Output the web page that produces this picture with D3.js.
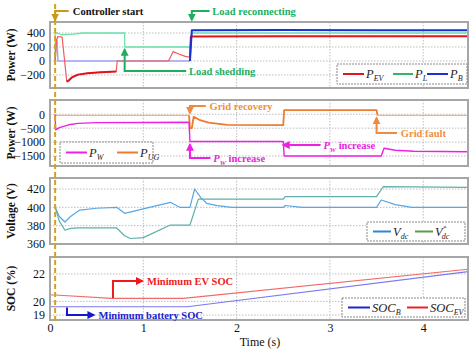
<!DOCTYPE html>
<html>
<head>
<meta charset="utf-8">
<script src="https://cdn.jsdelivr.net/npm/d3@7"></script>
<style>
  body { margin: 0; background: #fff; }
</style>
</head>
<body>
<svg id="chart" width="474" height="354"></svg>
<script>
// ---- data: [time (s), value] ----
const tStart = 0.055;

// panel 1, power (W)
const pEV = [[0.055,0],[0.07,300],[0.085,350],[0.13,340],[0.18,-296],[0.2,-280],[0.24,-230],[0.3,-195],[0.4,-175],[0.55,-160],[0.71,-150],[0.72,0],[1.27,0],[1.32,133],[1.38,100],[1.45,65],[1.5,53],[1.51,350],[2.5,355],[3.5,352],[4.48,355]];
const pL = [[0.055,0],[0.056,400],[0.08,400],[0.12,375],[0.25,385],[0.35,400],[0.8,400],[0.801,200],[1.5,200],[1.52,400],[4.48,400]];
const pB = [[0.055,0],[0.065,300],[0.075,300],[0.085,0],[1.5,0],[1.52,440],[2.5,442],[3.5,438],[4.48,440]];

// panel 2, power (W)
const pW = [[0.055,0],[0.06,-560],[0.1,-480],[0.2,-380],[0.3,-330],[0.5,-300],[1.49,-290],[1.5,-980],[2.5,-980],[2.51,-1500],[3.55,-1500],[3.58,-1222],[3.7,-1290],[3.9,-1330],[4.48,-1345]];
const pUG = [[0.055,-40],[1.49,-40],[1.5,-500],[1.52,-500],[1.54,-90],[1.6,-200],[1.7,-300],[1.9,-385],[2.5,-390],[2.51,150],[3.5,150],[3.51,-40],[4.48,-40]];

// panel 3, voltage (V)
const vDC = [[0.055,400],[0.1,390],[0.16,384],[0.22,390],[0.32,397],[0.5,399],[0.715,400],[0.8,393.5],[1.29,405.5],[1.39,400],[1.5,400],[1.55,420],[1.62,410],[1.68,404.4],[1.79,401.8],[1.95,400],[2.5,400],[2.52,402],[2.7,400],[3.5,400],[3.55,408],[3.7,403],[3.88,400],[4.48,400]];
const vRef = [[0.055,400],[0.1,385],[0.16,375],[0.22,377],[0.3,377.5],[0.715,377.5],[0.8,369],[0.86,366],[1.0,367],[1.29,380.7],[1.5,380.7],[1.59,409],[2.5,409],[2.52,411.6],[3.5,411.6],[3.57,422.5],[4.48,421.8]];

// panel 4, SOC (%)
const socB = [[0,19.61],[1.47,19.61],[4.48,22.17]];
const socEV = [[0,20.47],[0.055,20.47],[0.66,20.22],[1.43,20.22],[4.48,22.34]];

// ticks
const xTicks = [0, 1, 2, 3, 4];
const yTicks1 = [400, 200, 0, -200];
const yTicks2 = [0, -500, -1000, -1500];
const yTicks3 = [420, 400, 380, 360];
const yTicks4 = [22, 20, 19];

const FONT = "'Liberation Serif', 'DejaVu Serif', serif";
const svg = d3.select('#chart').attr('font-family', FONT);
const x = d3.scaleLinear().domain([0, 4.48]).range([50, 468]);

const panels = [
  { top: 22,  bottom: 88,  domain: [-386, 557],    ticks: yTicks1, title: 'Power (W)' },
  { top: 100, bottom: 166, domain: [-1857, 510],   ticks: yTicks2, title: 'Power (W)' },
  { top: 178, bottom: 244, domain: [360, 432],     ticks: yTicks3, title: 'Voltage (V)' },
  { top: 257, bottom: 320, domain: [18.64, 23.24], ticks: yTicks4, title: 'SOC (%)' },
];
panels.forEach(p => {
  p.y = d3.scaleLinear().domain(p.domain).range([p.bottom, p.top]);
});

const defs = svg.append('defs');
function marker(id, color) {
  defs.append('marker')
    .attr('id', id)
    .attr('viewBox', '0 0 10 10')
    .attr('refX', 8).attr('refY', 5)
    .attr('markerWidth', 8).attr('markerHeight', 8)
    .attr('markerUnits', 'userSpaceOnUse')
    .attr('orient', 'auto')
    .append('path').attr('d', 'M0,0 L10,5 L0,10 z').attr('fill', color);
}

// frames, grid, axes
panels.forEach(p => {
  const g = svg.append('g');
  g.append('rect')
    .attr('x', x.range()[0]).attr('y', p.top)
    .attr('width', x.range()[1] - x.range()[0]).attr('height', p.bottom - p.top)
    .attr('fill', '#fff');
  g.selectAll('.vg').data(xTicks.slice(1)).join('line')
    .attr('x1', d => x(d)).attr('x2', d => x(d))
    .attr('y1', p.top).attr('y2', p.bottom)
    .attr('stroke', '#bdbdbd').attr('stroke-width', 1).attr('stroke-dasharray', '1.5,1.5');
  g.selectAll('.hg').data(p.ticks).join('line')
    .attr('x1', x.range()[0]).attr('x2', x.range()[1])
    .attr('y1', d => p.y(d)).attr('y2', d => p.y(d))
    .attr('stroke', '#bdbdbd').attr('stroke-width', 1).attr('stroke-dasharray', '1.5,1.5');

  const ax = svg.append('g')
    .attr('transform', `translate(${x.range()[0]},0)`)
    .call(d3.axisLeft(p.y).tickValues(p.ticks).tickSize(0).tickPadding(5).tickFormat(d3.format('d')));
  ax.select('.domain').remove();
  ax.selectAll('text').attr('font-size', 12).attr('fill', '#111');

  svg.append('text')
    .attr('transform', `translate(12,${(p.top + p.bottom) / 2}) rotate(-90)`)
    .attr('text-anchor', 'middle').attr('dominant-baseline', 'middle')
    .attr('font-size', 11.5).attr('font-weight', 'bold').attr('fill', '#111')
    .text(p.title);
});

const xa = svg.append('g')
  .attr('transform', `translate(0,${panels[3].bottom})`)
  .call(d3.axisBottom(x).tickValues(xTicks).tickSize(0).tickPadding(3).tickFormat(d3.format('d')));
xa.select('.domain').remove();
xa.selectAll('text').attr('font-size', 12).attr('fill', '#111');
svg.append('text').attr('x', 260).attr('y', 346).attr('text-anchor', 'middle')
  .attr('font-size', 12).attr('fill', '#111').text('Time (s)');

// series
function drawLine(p, data, color, width) {
  const line = d3.line().x(d => x(d[0])).y(d => p.y(d[1]));
  svg.append('path').datum(data)
    .attr('d', line).attr('fill', 'none')
    .attr('stroke', color).attr('stroke-width', width)
    .attr('stroke-linejoin', 'round');
}
drawLine(panels[0], pL, '#6be2ac', 1.3);
drawLine(panels[0], pB.filter(d => d[0] <= 1.5), '#a3a3f5', 1.5);
drawLine(panels[0], pEV.filter(d => d[0] <= 1.5), '#f05a5a', 1.2);
drawLine(panels[0], pEV.filter(d => d[0] >= 1.5), '#e5141c', 2);
drawLine(panels[0], pB.filter(d => d[0] >= 1.5), '#1c2fd6', 2);
drawLine(panels[0], pEV.filter(d => d[0] > 0.17 && d[0] < 0.72), '#e0121a', 2);

drawLine(panels[1], pUG.filter(d => d[0] <= 1.49), '#f5a070', 1);
drawLine(panels[1], pUG.filter(d => d[0] >= 1.49 && d[0] <= 3.51), '#f07a30', 1.8);
drawLine(panels[1], pUG.filter(d => d[0] >= 3.51), '#f5a070', 1);
drawLine(panels[1], pW, '#f01ee6', 1.4);

drawLine(panels[2], vDC, '#5aa6e2', 1.2);
drawLine(panels[2], vRef, '#5fb0a8', 1.2);

drawLine(panels[3], socEV, '#f06a6a', 1.1);
drawLine(panels[3], socB, '#7a7af0', 1.1);

// panel frames on top
panels.forEach(p => {
  svg.append('rect')
    .attr('x', x.range()[0]).attr('y', p.top)
    .attr('width', x.range()[1] - x.range()[0]).attr('height', p.bottom - p.top)
    .attr('fill', 'none').attr('stroke', '#a6a6a6').attr('stroke-width', 2);
});

// controller start dashed line
svg.append('line')
  .attr('x1', x(tStart)).attr('x2', x(tStart))
  .attr('y1', 4).attr('y2', 323)
  .attr('stroke', '#d3a21e').attr('stroke-width', 2).attr('stroke-dasharray', '5,3');

// legends
function legend(x0, y0, w, h, items) {
  const g = svg.append('g');
  g.append('rect').attr('x', x0).attr('y', y0).attr('width', w).attr('height', h)
    .attr('fill', '#fff').attr('stroke', '#8a8a8a').attr('stroke-width', 1).attr('stroke-dasharray', '2,1');
  items.forEach(it => {
    const cy = y0 + h / 2;
    g.append('line').attr('x1', it.x).attr('x2', it.x + it.len).attr('y1', cy).attr('y2', cy)
      .attr('stroke', it.color).attr('stroke-width', 2);
    const tx = it.x + it.len + 2;
    const t = g.append('text').attr('x', tx).attr('y', cy + 4)
      .attr('font-size', 12.5).attr('font-style', 'italic').attr('fill', '#222')
      .style('font-family', FONT);
    t.append('tspan').text(it.main);
    const w0 = t.node().getComputedTextLength();
    if (it.sup) {
      g.append('text').attr('x', tx + w0).attr('y', cy - 2)
        .attr('font-size', 7).attr('font-style', 'italic').attr('fill', '#222').text(it.sup);
    }
    g.append('text').attr('x', tx + w0 - (it.sup ? 1 : 0)).attr('y', cy + 7)
      .attr('font-size', 8).attr('font-style', 'italic').attr('fill', '#222').text(it.sub);
  });
}
legend(337, 64, 130, 20, [
  { x: 343, len: 21, color: '#e5141c', main: 'P', sub: 'EV' },
  { x: 393, len: 20, color: '#2fb866', main: 'P', sub: 'L' },
  { x: 427, len: 21, color: '#1c2fd6', main: 'P', sub: 'B' },
]);
legend(60, 142, 93, 21, [
  { x: 66, len: 21, color: '#f01ee6', main: 'P', sub: 'W' },
  { x: 117, len: 21, color: '#f07a30', main: 'P', sub: 'UG' },
]);
legend(367, 222, 98, 19, [
  { x: 373, len: 18, color: '#2d86d8', main: 'V', sub: 'dc' },
  { x: 415, len: 18, color: '#5a9a4a', main: 'V', sup: '*', sub: 'dc' },
]);
legend(342, 298, 123, 19, [
  { x: 348, len: 22, color: '#2222c8', main: 'SOC', sub: 'B' },
  { x: 407, len: 21, color: '#e8242a', main: 'SOC', sub: 'EV' },
]);

// annotations: points in [time, value] of a panel, arrowhead on the last point
const notes = [
  { panel: 0, color: '#c99a14', textColor: '#111', pts: [[0.2,714],[0.055,714],[0.055,585]], at: [0.245,714], label: 'Controller start' },
  { panel: 0, color: '#1fae5e', textColor: '#22b062', pts: [[1.71,714],[1.52,714],[1.52,585]], at: [1.74,714], label: 'Load reconnecting' },
  { panel: 0, color: '#1fae5e', textColor: '#22b062', pts: [[1.46,-143],[0.8,-143],[0.8,165]], at: [1.49,-143], label: 'Load shedding' },
  { panel: 1, color: '#f08a3c', textColor: '#f09040', pts: [[1.67,294],[1.5,294],[1.5,40]], at: [1.71,294], label: 'Grid recovery' },
  { panel: 1, color: '#f01ee6', textColor: '#e81ee0', pts: [[1.72,-1571],[1.5,-1571],[1.5,-1085]], at: [1.75,-1571], pw: true },
  { panel: 1, color: '#f01ee6', textColor: '#e81ee0', pts: [[2.9,-1105],[2.5,-1105]], at: [2.93,-1105], pw: true },
  { panel: 1, color: '#f08a3c', textColor: '#f09040', pts: [[3.72,-674],[3.5,-674],[3.5,-130]], at: [3.76,-674], label: 'Grid fault' },
  { panel: 3, color: '#f01818', textColor: '#ee1c1c', pts: [[0.675,20.25],[0.675,21.49],[0.99,21.49]], at: [1.04,21.49], label: 'Minimum EV SOC' },
  { panel: 3, color: '#1616d0', textColor: '#2222cc', pts: [[0.182,19.55],[0.182,19.0],[0.47,19.0]], at: [0.52,19.0], label: 'Minimum battery SOC' },
];
notes.forEach((n, i) => {
  const p = panels[n.panel];
  marker('arr' + i, n.color);
  svg.append('path')
    .attr('d', d3.line().x(d => x(d[0])).y(d => p.y(d[1]))(n.pts))
    .attr('fill', 'none').attr('stroke', n.color).attr('stroke-width', 2)
    .attr('marker-end', `url(#arr${i})`);
  const t = svg.append('text')
    .attr('x', x(n.at[0])).attr('y', p.y(n.at[1]) + 4)
    .attr('font-size', 10.5).attr('font-weight', 'bold').attr('fill', n.textColor);
  if (n.pw) {
    t.append('tspan').attr('font-style', 'italic').text('P');
    t.append('tspan').attr('font-style', 'italic').attr('font-size', 7).attr('dy', 3).text('W');
    t.append('tspan').attr('dy', -3).text(' increase');
  } else {
    t.text(n.label);
  }
});

// axes set their own sans-serif family, so force serif on every text
svg.selectAll('g').attr('font-family', null);
svg.selectAll('text').style('font-family', FONT);
</script>
</body>
</html>
